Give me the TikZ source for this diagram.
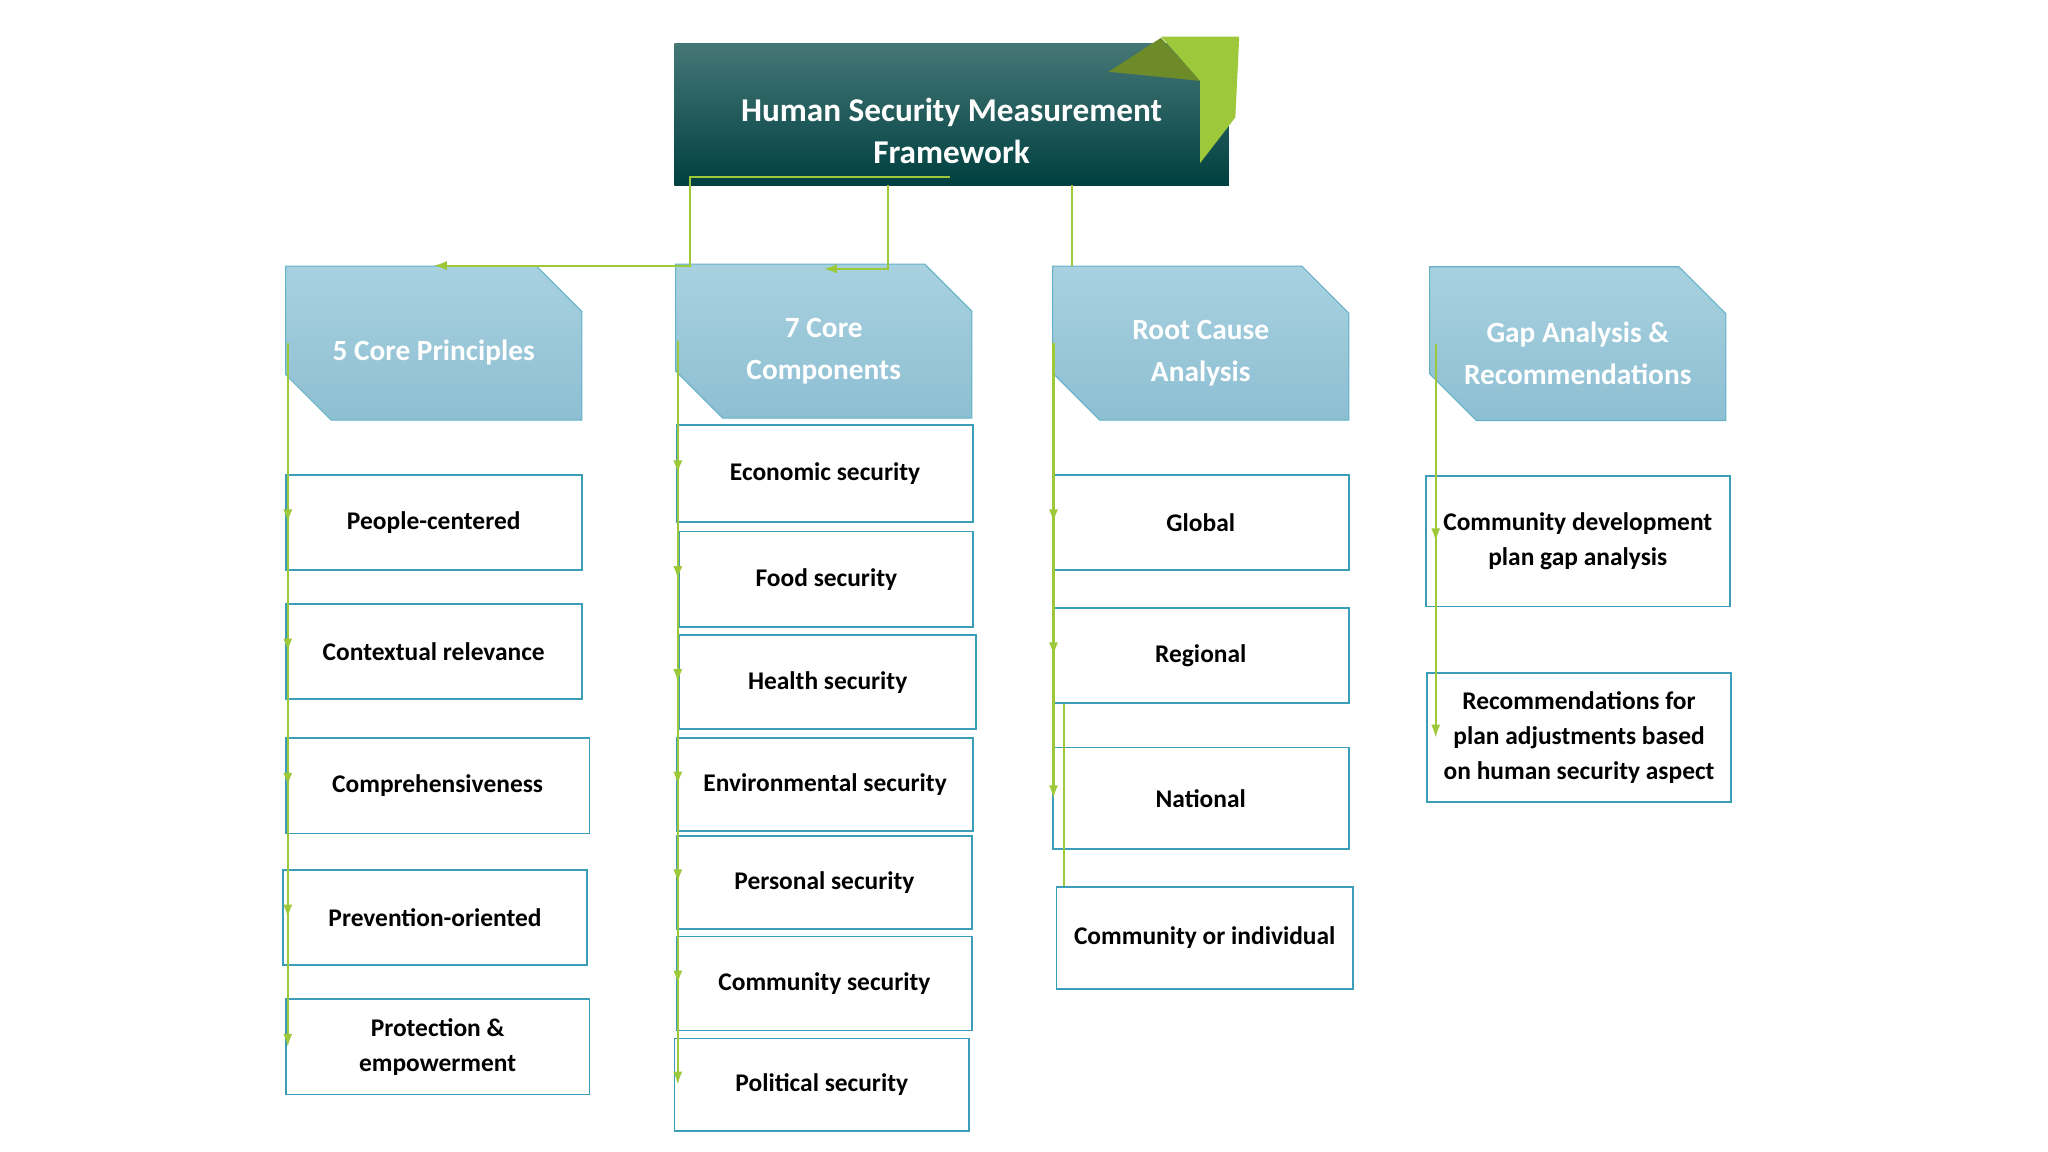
\documentclass[tikz,border=0pt]{standalone}
\usepackage{fontspec}
\setmainfont{Carlito}
\usetikzlibrary{shapes.misc,arrows.meta}
\definecolor{leaf}{HTML}{9CC83A}
\definecolor{edge}{HTML}{3C9DB8}
\definecolor{headtop}{HTML}{A8D1E0}
\definecolor{headbot}{HTML}{8DBFD2}
\tikzset{
  item/.style={draw=edge, line width=1.3pt, fill=white, minimum width=227pt, minimum height=73pt,
    inner sep=0pt, align=center, font=\fontsize{19.5}{27}\selectfont\bfseries},
  head/.style={chamfered rectangle, chamfered rectangle corners={north east,south west},
    chamfered rectangle sep=18pt, draw=edge!80, line width=0.8pt, top color=headtop, bottom color=headbot,
    minimum width=227pt, minimum height=118pt, inner sep=0pt, align=center, text=white,
    font=\fontsize{22.5}{32}\selectfont\bfseries},
  link/.style={draw=leaf, line width=1.6pt, -{Latex[length=10pt,width=7pt]}},
}
\begin{document}
\begin{tikzpicture}[x=1pt,y=-1pt]
    \useasboundingbox (0,0) rectangle (1570,883);

    % title
    \node[top color=black!15!teal!45!gray, bottom color=teal!50!black, minimum width=425pt, minimum height=109pt,
      text=white, align=center, font=\fontsize{25.5}{32}\selectfont\bfseries, inner sep=0pt]
      (title) at (729.5,87.5) {\rule{0pt}{44pt}Human Security Measurement\\Framework};
    \fill[leaf!70!black] (850,55) -- (890,29) -- (920,62) -- cycle;
    \fill[leaf] (890,28) -- (950,28) -- (947,90) -- (920,125) -- (920,62) -- cycle;

    % headers
    \node[head] (h1) at (332.5,263) {\rule{0pt}{30pt}5 Core Principles};
    \node[head] (h2) at (631.5,261.5) {\rule{0pt}{30pt}7 Core\\Components};
    \node[head] (h3) at (920.5,263) {\rule{0pt}{30pt}Root Cause\\Analysis};
    \node[head] (h4) at (1209.5,263.5) {\rule{0pt}{30pt}Gap Analysis \&\\Recommendations};

    % principles
    \node[item] (p1) at (332.5,400.5) {People-centered};
    \node[item] (p2) at (332.5,499.5) {Contextual relevance};
    \node[item, minimum width=233pt] (p3) at (335.5,602.5) {Comprehensiveness};
    \node[item, minimum width=233pt] (p4) at (333.5,703.5) {Prevention-oriented};
    \node[item, minimum width=233pt] (p5) at (335.5,802.5) {Protection \&\\empowerment};

    % components
    \node[item, minimum height=74pt] (c1) at (632.5,363) {Economic security};
    \node[item, minimum width=225pt] (c2) at (633.5,444) {Food security};
    \node[item, minimum height=72pt] (c3) at (634.5,523) {Health security};
    \node[item, minimum height=71pt] (c4) at (632.5,601.5) {Environmental security};
    \node[item, minimum width=226pt, minimum height=71pt] (c5) at (632,676.5) {Personal security};
    \node[item, minimum width=226pt, minimum height=72pt] (c6) at (632,754) {Community security};
    \node[item, minimum width=226pt, minimum height=71pt] (c7) at (630,831.5) {Political security};

    % root causes
    \node[item] (r1) at (920.5,400.5) {Global};
    \node[item] (r2) at (920.5,502.5) {Regional};
    \node[item, minimum height=78pt] (r3) at (920.5,612) {National};
    \node[item, minimum height=78pt] (r4) at (923.5,719) {Community or individual};

    % gap analysis
    \node[item, minimum width=233pt, minimum height=100pt] (g1) at (1209.5,415) {Community development\\plan gap analysis};
    \node[item, minimum width=233pt, minimum height=99pt] (g2) at (1210.5,565.5) {Recommendations for\\plan adjustments based\\on human security aspect};

    % links from the title
    \coordinate (t1) at (728,136);
    \draw[link] (t1) -| ([xshift=-199pt]t1 |- h1.north) -- (h1.north);
    \draw[link] (title.south -| 681,0) |- ([yshift=-4pt]h2.north);
    \draw[draw=leaf, line width=1.6pt] (title.south -| 822,0) -- (h3.north -| 822,0);

    % links down the columns
    \foreach \n in {p1,p2,p3,p4,p5}
      \draw[link] ([xshift=2pt]h1.west) -- ([xshift=2pt]h1.west |- \n.west);
    \foreach \n in {c1,c2,c3,c4,c5,c6,c7}
      \draw[link] ([xshift=2pt]h2.west) -- ([xshift=2pt]h2.west |- \n.west);
    \foreach \n in {r1,r2,r3}
      \draw[link] ([xshift=1pt]h3.west) -- ([xshift=1pt]h3.west |- \n.west);
    \draw[draw=leaf, line width=1.6pt] ([xshift=9pt]r2.south west) -- ([xshift=9pt]r2.south west |- r4.north);
    \foreach \n in {g1,g2}
      \draw[link] ([xshift=5pt]h4.west) -- ([xshift=5pt]h4.west |- \n.west);
\end{tikzpicture}
\end{document}
